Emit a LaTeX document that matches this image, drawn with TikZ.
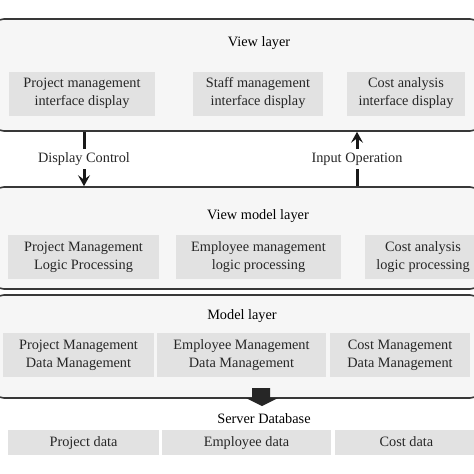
\documentclass[tikz,border=0pt]{standalone}
\usepackage{fontspec}
\setmainfont{Liberation Serif}
\usetikzlibrary{arrows.meta}
\definecolor{layerfill}{HTML}{F6F6F6}
\definecolor{layerline}{HTML}{383838}
\definecolor{boxfill}{HTML}{E2E2E2}
\tikzset{
  layer/.style={draw=layerline, line width=1.6pt, fill=layerfill, rounded corners=12pt, minimum width=490pt},
  part/.style={fill=boxfill, text=black!85, align=center, inner sep=0pt, minimum height=44pt},
  datum/.style={part, minimum height=25pt, text height=10pt, text depth=3pt},
  flow/.style={line width=3pt, black!90, -{Stealth[length=11pt,width=12pt,inset=4.5pt]}},
}
\begin{document}
\begin{tikzpicture}[x=1pt,y=-1pt,font=\fontsize{14.3}{18}\selectfont]
	\clip (0,0) rectangle (474,474);
	\fill[white] (0,0) rectangle (474,474);
	% layers
	\node[layer, minimum height=112pt] (view) at (237,75) {};
	\node[layer, minimum height=102pt] (vm) at (237,238) {};
	\node[layer, minimum height=103pt] (model) at (237,346.5) {};
	\node (viewt) at (259,43) {View layer};
	\node (vmt) at (258,216) {View model layer};
	\node (modelt) at (242,316) {Model layer};
	% view layer
	\node[part, minimum width=146pt] (vp) at (82,93.5) {Project management\\interface display};
	\node[part, minimum width=130pt] (vs) at (258,93.5) {Staff management\\interface display};
	\node[part, minimum width=118pt] (vc) at (406,93.5) {Cost analysis\\interface display};
	% view model layer
	\node[part, minimum width=151pt] (mp) at (83.5,257) {Project Management\\Logic Processing};
	\node[part, minimum width=165pt] (me) at (258.5,257) {Employee management\\logic processing};
	\node[part, minimum width=116pt] (mc) at (423,257) {Cost analysis\\logic processing};
	% model layer
	\node[part, minimum width=151pt] (dp) at (78.5,355) {Project Management\\Data Management};
	\node[part, minimum width=169pt] (de) at (241.5,355) {Employee Management\\Data Management};
	\node[part, minimum width=140pt] (dc) at (400,355) {Cost Management\\Data Management};
	% database
	\fill[black!85] (252,388) -- (270,388) -- (270,398) -- (278,398) -- (262,406) -- (246,398) -- (252,398) -- cycle;
	\node (dbt) at (264,419) {Server Database};
	\node[datum, minimum width=151pt] (pd) at (83.5,442.5) {Project data};
	\node[datum, minimum width=169pt] (ed) at (246.5,442.5) {Employee data};
	\node[datum, minimum width=143pt] (cd) at (406.5,442.5) {Cost data};
	% arrows
	\coordinate (ctrl) at (84,0);
	\coordinate (inp) at (357,0);
	\draw[flow] (view.south -| ctrl) -- node[fill=white, text=black!85] {Display Control} (vm.north -| ctrl);
	\draw[flow] (vm.north -| inp) -- node[fill=white, text=black!85] {Input Operation} (view.south -| inp);
\end{tikzpicture}
\end{document}
